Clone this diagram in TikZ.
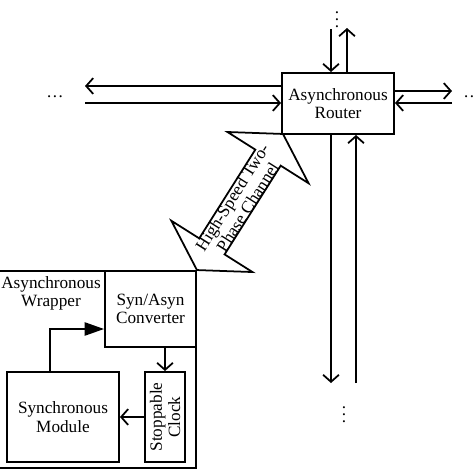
\documentclass[tikz,border=0pt]{standalone}
\usepackage{fontspec}
\setmainfont{Liberation Serif}
\usetikzlibrary{arrows.meta}

\tikzset{
    box/.style={draw, line width=1.1pt, inner sep=0pt, align=center},
    link/.style={line width=1pt, -{Straight Barb[length=4pt,width=9pt]}},
    feed/.style={line width=1pt, -{Triangle[length=11pt,width=7.5pt]}},
}

\begin{document}
\begin{tikzpicture}[x=0.02cm, y=-0.02cm, font=\fontsize{9.8}{10.4}\selectfont]
    \useasboundingbox (0,0) rectangle (474,474);
    \node [box, minimum width=2.24cm, minimum height=1.22cm] (router) at (338,103.5) {Asynchronous\\Router};
    \node [box, minimum width=3.98cm, minimum height=3.94cm] (wrap) at (96.5,369.5) {};
    \node [box, minimum width=1.82cm, minimum height=1.52cm] (conv) at (150.5,309) {Syn/Asyn\\Converter};
    \node [box, minimum width=2.24cm, minimum height=1.8cm] (mod) at (63,417) {Synchronous\\Module};
    \node [box, rotate=90, minimum width=1.8cm, minimum height=0.8cm] (clock) at (165,417) {Stoppable\\Clock};
    \node [align=center] (wraplbl) at (51,293) {Asynchronous\\Wrapper};
    \coordinate (NIn)  at (331,29);
    \coordinate (NOut) at (347,28);
    \coordinate (SOut) at (331,383);
    \coordinate (SIn)  at (356,383);
    \coordinate (WOut) at (85,86);
    \coordinate (WIn)  at (85,103);
    \coordinate (EOut) at (452,91);
    \coordinate (EIn)  at (452,103);
    \coordinate (Bend) at (50,329);
    \draw [link] (NIn) -- (NIn |- router.north);% north port
    \draw [link] (NOut |- router.north) -- (NOut);
    \draw [link] (SOut |- router.south) -- (SOut);% south port
    \draw [link] (SIn) -- (SIn |- router.south);
    \draw [link] (WOut -| router.west) -- (WOut);% west port
    \draw [link] (WIn) -- (WIn -| router.west);
    \draw [link] (EOut -| router.east) -- (EOut);% east port
    \draw [link] (EIn) -- (EIn -| router.east);
    \node (NDots) at (337,14) {$\vdots$};
    \node (SDots) at (344,409) {$\vdots$};
    \node (WDots) at (55,97) {\dots};
    \node (EDots) at (472,97) {\dots};
    \draw [feed] (Bend |- mod.north) -- (Bend) -- (Bend -| conv.west);
    \draw [link] (clock.east |- conv.south) -- (clock.east);
    \draw [link] (clock.north) -- (clock.north -| mod.east);
    \begin{scope}[shift={(wrap.north east)}, rotate=57.7]
        \draw [line width=1pt, fill=white] (0,0) -- (28,48) -- (28,15) -- (133,15) -- (133,48) -- (161,0)
            -- (133,-48) -- (133,-15) -- (28,-15) -- (28,-48) -- cycle;% two-phase channel
        \node [rotate=57.7, align=center] (chan) at (80.5,0) {High-Speed Two-\\Phase Channel};
    \end{scope}
\end{tikzpicture}
\end{document}
